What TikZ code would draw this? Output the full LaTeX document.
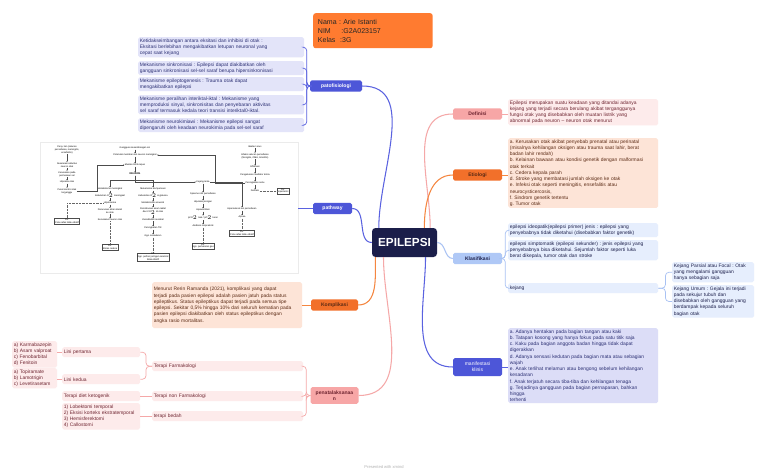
\documentclass[tikz,border=0pt]{standalone}
\usepackage{fontspec}
\setmainfont{Liberation Sans}
\usetikzlibrary{arrows.meta,positioning,calc}
\frenchspacing

\definecolor{navy}{HTML}{1B1E4A}
\definecolor{bluefill}{HTML}{4D56D8}
\definecolor{blueline}{HTML}{5A62E0}
\definecolor{lavbg}{HTML}{E3E4F9}
\definecolor{manbg}{HTML}{DCDDF7}
\definecolor{bluetext}{HTML}{2B2F73}
\definecolor{orangefill}{HTML}{F2702A}
\definecolor{orangeline}{HTML}{F58640}
\definecolor{peach}{HTML}{FDE4D7}
\definecolor{browntext}{HTML}{5B2A14}
\definecolor{pinkfill}{HTML}{F7A6A6}
\definecolor{pinkline}{HTML}{F5A8A8}
\definecolor{pinkbg}{HTML}{FDEBEB}
\definecolor{redtext}{HTML}{6E2430}
\definecolor{ltblue}{HTML}{AFC8F6}
\definecolor{ltblueline}{HTML}{A9C2F3}
\definecolor{ltbluebg}{HTML}{E6EEFD}
\definecolor{titleorange}{HTML}{FF7B30}

\begin{document}
\begin{tikzpicture}[
  x=0.03cm, y=-0.03cm,
  font=\fontsize{4.2}{5.3}\selectfont,
  topic/.style={rounded corners=1.5pt, align=center, minimum height=0.34cm, inner sep=1pt, font=\fontsize{4.3}{5}\selectfont\bfseries},
  leaf/.style={anchor=north west, align=left, inner xsep=1.4pt, inner ysep=1.3pt, rounded corners=1.5pt},
  strip/.style={leaf, minimum height=0.3cm},
  pkid/.style={leaf, fill=lavbg, text=bluetext, text width=4.88cm},
  rbox/.style={leaf, text width=4.4cm},
  link/.style={line width=0.9pt},
  twig/.style={line width=0.6pt, rounded corners=3pt},
  pw/.style={font=\fontsize{2}{2.4}\selectfont, align=center, inner sep=0.3pt},
  pwdx/.style={pw, draw=black!70, line width=0.2pt, inner sep=0.6pt},
  pwar/.style={-{Stealth[length=1pt,width=1pt]}, draw=black!70, line width=0.2pt},
  pwdash/.style={draw=black!60, line width=0.2pt, dash pattern=on 0.6pt off 0.6pt}
]
\useasboundingbox[fill=white] (0,0) rectangle (768,475);

% title and centre
\node[anchor=north west, fill=titleorange, rounded corners=2pt, minimum height=1.05cm, text width=3.3cm, align=left, inner xsep=4pt, font=\fontsize{6}{7.6}\selectfont, text=black!85] (ttl) at (313,13) {Nama : Arie Istanti\\NIM \ \ \ \,:G2A023157\\Kelas \ :3G};
\node[fill=navy, text=white, rounded corners=3pt, minimum width=1.95cm, minimum height=0.87cm, font=\fontsize{10}{12}\selectfont\bfseries] (epi) at (404.5,242.5) {EPILEPSI};

% left topics
\node[topic, fill=bluefill, text=white, minimum width=1.56cm] (pato) at (336,86) {patofisiologi};
\node[topic, fill=bluefill, text=white, minimum width=1.17cm] (path) at (332.5,208.5) {pathway};
\node[topic, fill=orangefill, text=browntext, minimum width=1.41cm] (komp) at (334.5,305) {Komplikasi};
\node[topic, fill=pinkfill, text=redtext, minimum width=1.44cm, minimum height=0.5cm] (pena) at (334.5,395.5) {penatalaksanaa\\n};

% right topics
\node[topic, fill=pinkfill, text=redtext, minimum width=1.47cm] (def) at (477.5,114) {Definisi};
\node[topic, fill=orangefill, text=browntext, minimum width=1.47cm] (eti) at (477.5,175) {Etiologi};
\node[topic, fill=ltblue, text=navy, minimum width=1.47cm] (kla) at (477.5,258.5) {Klasifikasi};
\node[topic, fill=bluefill, text=white, minimum width=1.47cm, minimum height=0.54cm, font=\fontsize{4.3}{5}\selectfont] (man) at (477.5,367) {manifestasi\\klinis};

% patofisiologi
\node[pkid] (pk1) at (138,37) {Ketidakseimbangan antara eksitasi dan inhibisi di otak :\\Eksitasi berlebihan mengakibatkan letupan neuronal yang\\cepat saat kejang};
\node[pkid] (pk2) at (138,61) {Mekanisme sinkronisasi : Epilepsi dapat diakibatkan oleh\\gangguan sinkronisasi sel-sel saraf berupa hipersinkronisasi};
\node[pkid] (pk3) at (138,77) {Mekanisme epileptogenesis : Trauma otak dapat\\mengakibatkan epilepsi};
\node[pkid] (pk4) at (138,95) {Mekanisme peralihan interiktal-iktal : Mekanisme yang\\memproduksi sinyal, sinkronisitas dan penyebaran aktivitas\\sel saraf termasuk kedala teori transisi interiktal0-iktal.};
\node[pkid] (pk5) at (138,118) {Mekanisme neurokimiawi : Mekanisme epilepsi sangat\\dipengaruhi oleh keadaan neurokimia pada sel-sel saraf};

% komplikasi
\node[rbox, fill=peach, text=browntext, minimum height=1.38cm] (kbox) at (152,282) {Menurut Rerin Ramanda (2021), komplikasi yang dapat\\terjadi pada pasien epilepsi adalah pasien jatuh pada status\\epileptikus. Status epileptikus dapat terjadi pada semua tipe\\epilepsi. Sekitar 0,5\% hingga 10\% dari seluruh kematian pada\\pasien epilepsi diakibatkan oleh status epileptikus dengan\\angka rasio mortalitas.};

% penatalaksanaan
\node[strip, fill=pinkbg, text=redtext, text width=4.43cm] (tf) at (152,361) {Terapi Farmakologi};
\node[strip, fill=pinkbg, text=redtext, text width=4.43cm] (tnf) at (152,391) {Terapi non Farmakologi};
\node[strip, fill=pinkbg, text=redtext, text width=4.43cm] (tb) at (152,411) {terapi bedah};
\node[strip, fill=pinkbg, text=redtext, text width=2.24cm] (lp) at (62,347) {Lini pertama};
\node[strip, fill=pinkbg, text=redtext, text width=2.24cm] (lk) at (62,374) {Lini kedua};
\node[strip, fill=pinkbg, text=redtext, text width=2.24cm] (diet) at (62,391) {Terapi diet ketogenik};
\node[leaf, fill=pinkbg, text=redtext, text width=1.25cm] (obat1) at (12,341) {a) Karmabazepin\\b) Asam valproat\\c) Fenobarbital\\d) Fenitoin};
\node[leaf, fill=pinkbg, text=redtext, text width=1.25cm] (obat2) at (12,368) {a) Topiramate\\b) Lamotrigin\\c) Levetirasetam};
\node[leaf, fill=pinkbg, text=redtext, text width=2.24cm] (bedah) at (62,403) {1) Lobektomi temporal\\2) Eksisi korteks ekstratemporal\\3) Hemisferektomi\\4) Callostomi};

% definisi, etiologi
\node[rbox, fill=pinkbg, text=redtext] (dbox) at (508,99) {Epilepsi merupakan suatu keadaan yang ditandai adanya\\kejang yang terjadi secara berulang akibat terganggunya\\fungsi otak yang disebabkan oleh muatan listrik yang\\abnormal pada neuron -- neuron otak menurut};
\node[rbox, fill=peach, text=browntext] (ebox) at (508,138) {a. Kerusakan otak akibat penyebab prenatal atau perinatal\\(misalnya kehilangan oksigen atau trauma saat lahir, berat\\badan lahir rendah)\\b. Kelainan bawaan atau kondisi genetik dengan malformasi\\otak terkait\\c. Cedera kepala parah\\d. Stroke yang membatasi jumlah oksigen ke otak\\e. Infeksi otak seperti meningitis, ensefalitis atau\\neurocysticercosis,\\f. Sindrom genetik tertentu\\g. Tumor otak};

% klasifikasi
\node[rbox, fill=ltbluebg, text=navy] (kl1) at (508,223) {epilepsi ideopatik(epilepsi primer) jenis : epilepsi yang\\penyebabnya tidak diketahui (disebabkan faktor genetik)};
\node[rbox, fill=ltbluebg, text=navy] (kl2) at (508,240) {epilepsi simptomatik (epilepsi sekunder) : jenis epilepsi yang\\penyebabnya bisa diketahui. Sejumlah faktor seperti luka\\berat dikepala, tumor otak dan stroke};
\node[rbox, strip, fill=ltbluebg, text=navy] (kj) at (508,283) {kejang};
\node[leaf, fill=ltbluebg, text=navy, text width=2.36cm] (kj1) at (672,262) {Kejang Parsial atau Focal : Otak\\yang mengalami gangguan\\hanya sebagian saja};
\node[leaf, fill=ltbluebg, text=navy, text width=2.36cm] (kj2) at (672,285) {Kejang Umum : Gejala ini terjadi\\pada sekujur tubuh dan\\disebabkan oleh gangguan yang\\berdampak kepada seluruh\\bagian otak};

% manifestasi klinis
\node[rbox, fill=manbg, text=bluetext] (mbox) at (508,328) {a. Adanya hentakan pada bagian tangan atau kaki\\b. Tatapan kosong yang hanya fokus pada satu titik saja\\c. Kaku pada bagian anggota badan hingga tidak dapat\\digerakkan\\d. Adanya sensasi kedutan pada bagian mata atau sebagian\\wajah\\e. Anak terlihat melamun atau bengong sebelum kehilangan\\kesadaran\\f. Anak terjatuh secara tiba-tiba dan kehilangan tenaga\\g. Terjadinya gangguan pada bagian pernapasan, bahkan\\hingga\\terhenti};

% pathway panel
\node[anchor=north west, draw=black!8, fill=white, minimum width=7.74cm, minimum height=3.93cm, inner sep=0pt] (panel) at (40,142) {};
\node[pw] (a1) at (67,150) {Peny. lain (saluran\\pernafasan, meningitis,\\ensefalitis)};
\node[pw] (a2) at (67,165) {Akselerasi aktivitas\\neuron otak};
\node[pw] (a3) at (67,174) {Kerusakan pada\\permukaan sel};
\node[pw] (a4) at (67,182) {Hipoksia otak};
\node[pw] (a5) at (67,191) {Pusat kontrol otak\\terganggu};
\node[pwdx] (ad) at (67,221) {Dx:\\Pola nafas tidak efektif};
\node[pw] (m1) at (135,148) {Gangguan keseimbangan ion};
\node[pw] (m2) at (135,155) {Potensial membran sel neuron meningkat};
\node[pw] (m3) at (135,165) {Muatan listrik lepas};
\node[pw, font=\fontsize{2.2}{2.6}\selectfont\bfseries] (m4) at (135,174) {KEJANG};
\node[pw] (l1) at (110,189) {Metabolisme meningkat};
\node[pw] (l2) at (110,196) {Kebutuhan O$_2$ meningkat};
\node[pw] (l3) at (110,203) {Hipoksemia};
\node[pw] (l4) at (110,211) {Penurunan aliran darah\\ke otak};
\node[pw] (l5) at (110,220) {Kerusakan neuron otak};
\node[pwdx] (ldx) at (110,247) {Dx:\\Risiko cedera};
\node[pw] (r1) at (153,189) {Mekanisme kompensasi};
\node[pw] (r2) at (153,196) {Kebutuhan O$_2$ \& glukosa};
\node[pw] (r3) at (153,203) {Metabolisme anaerob};
\node[pw] (r4) at (153,211) {Penimbunan asam laktat\\dan CO$_2$ di otak};
\node[pw] (r5) at (153,220) {Vasodilatasi serebral};
\node[pw] (r6) at (153,228) {Peningkatan TIK};
\node[pw] (r7) at (153,236) {Ggn. kesadaran};
\node[pwdx] (rdx) at (153,257) {Dx:\\Ggn. perfusi jaringan serebral\\tidak efektif};
\node[pw] (p1) at (203,182) {Kejang lama};
\node[pw] (p2) at (203,194) {Spasme otot pernafasan};
\node[pw] (p3) at (203,202) {Hipoksia jaringan};
\node[pw] (p4) at (203,210) {Hipoventilasi};
\node[pw] (p5) at (203,218) {pCO$_2$ naik / pO$_2$ turun};
\node[pw] (p6) at (203,226) {Asidosis respiratorik};
\node[pwdx] (pdx) at (203,246) {Dx:\\Ggn. pertukaran gas};
\node[pw] (q1) at (242,209) {Hipersekresi sel pernafasan};
\node[pw] (q2) at (242,217) {Apnea};
\node[pwdx] (qdx) at (242,233) {Dx:\\Pola nafas tidak efektif};
\node[pw] (v1) at (255,147) {Bakteri virus};
\node[pw] (v2) at (255,156) {Infeksi saluran pernafasan\\(faringitis, OMA, tonsilitis)};
\node[pw] (v3) at (255,167) {Inflamasi};
\node[pw] (v4) at (255,175) {Pengeluaran mediator kimia};
\node[pw] (v5) at (255,183) {Peningkatan suhu};
\node[pw] (v6) at (255,191) {Demam};
\node[pwdx] (vdx) at (283,191) {Dx:\\Hipertermi};

\foreach \a/\b in {a1/a2,a2/a3,a3/a4,a4/a5,m1/m2,m2/m3,m3/m4,l1/l2,l2/l3,l3/l4,l4/l5,r1/r2,r2/r3,r3/r4,r4/r5,r5/r6,r6/r7,p1/p2,p2/p3,p3/p4,p4/p5,p5/p6,q1/q2,v1/v2,v2/v3,v3/v4,v4/v5,v5/v6}
  \draw[pwar] (\a) -- (\b);
\draw[pwar] (a5.east) -- ++(20,0) |- (m3.west);
\draw[pwar] (m4.south) -- ++(0,5) -| (l1.north);
\draw[pwar] (m4.south) -- ++(0,5) -| (r1.north);
\draw[pwar] (m4.south) |- (p1.west);
\draw[pwar] (p1.east) -| (q1.north);
\draw[pwar] (v5.west) -- ++(-30,0) |- (m2.east);
\foreach \a/\b in {l5/ldx,r7/rdx,p6/pdx,q2/qdx,v6/vdx}
  \draw[pwdash] (\a) -- (\b);
\draw[pwdash] (l3.west) -| (ad.north);

% main connectors
\draw[link, blueline] ([xshift=6pt]epi.north west) to[out=90,in=0] (pato.east);
\draw[link, blueline] (epi.west) to[out=180,in=0] (path.east);
\draw[link, orangeline] ([xshift=3pt]epi.south west) to[out=-90,in=0] (komp.east);
\draw[link, pinkline] ([xshift=10pt]epi.south west) to[out=-90,in=0] (pena.east);
\draw[link, pinkline] ([xshift=-6pt]epi.north east) to[out=90,in=180] (def.west);
\draw[link, orangeline] ([xshift=-11pt]epi.north east) to[out=90,in=180] (eti.west);
\draw[link, ltblueline] (epi.east) to[out=0,in=180] (kla.west);
\draw[link, blueline] ([xshift=-10pt]epi.south east) to[out=-90,in=180] (man.west);

% branches
\foreach \k in {pk1,pk2,pk3,pk4,pk5}
  \draw[twig, blueline] (pato.west) -- ++(-3,0) |- (\k.east);
\draw[twig, blueline] (path.west) -- (panel.east |- path.west);
\draw[twig, orangeline] (komp.west) -- (kbox.east |- komp.west);
\foreach \k in {tf,tnf,tb}
  \draw[twig, pinkline] (pena.west) -- ++(-4,0) |- (\k.east);
\foreach \k in {lp,lk}
  \draw[twig, pinkline] (tf.west) -- ++(-6,0) |- (\k.east);
\draw[twig, pinkline] (lp.west) -- (obat1.east |- lp.west);
\draw[twig, pinkline] (lk.west) -- (obat2.east |- lk.west);
\draw[twig, pinkline] (tnf.west) -- (diet.east);
\draw[twig, pinkline] (tb.west) -- (bedah.east |- tb.west);
\draw[twig, pinkline] (def.east) -- (dbox.west |- def.east);
\draw[twig, orangeline] (eti.east) -- (ebox.west |- eti.east);
\foreach \k in {kl1,kl2,kj}
  \draw[twig, ltblueline] (kla.east) -- ++(3,0) |- (\k.west);
\foreach \k in {kj1,kj2}
  \draw[twig, ltblueline] (kj.east) -- ++(7,0) |- (\k.west);
\draw[twig, blueline] (man.east) -- (mbox.west |- man.east);

\node[text=black!30, font=\fontsize{3.5}{4}\selectfont] (foot) at (384,467) {Presented with xmind};
\end{tikzpicture}
\end{document}
